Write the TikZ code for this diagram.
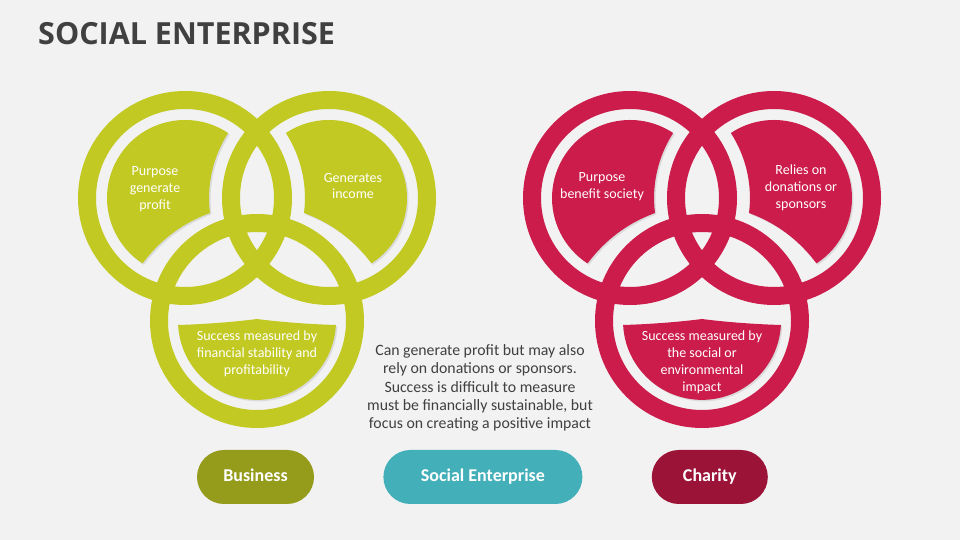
\documentclass[tikz,border=0pt]{standalone}
\usepackage{fontspec}
\setmainfont{Carlito}
\newfontfamily\titlefont{Open Sans}
\usetikzlibrary{positioning,shadows}
\definecolor{bg_gray}{HTML}{F2F2F2}
\definecolor{lime_ring}{HTML}{C2C923}
\definecolor{rose_ring}{HTML}{CC1C4B}
\definecolor{olive_pill}{HTML}{959B1A}
\definecolor{teal_pill}{HTML}{42AFB9}
\definecolor{wine_pill}{HTML}{9B1438}
\definecolor{text_dark}{HTML}{404040}
\begin{document}
\begin{tikzpicture}[
        x=1pt, y=1pt,
        ring/.style={line width=18pt},
        blob/.style={drop shadow={shadow xshift=1.5pt, shadow yshift=-1.5pt, opacity=.2}},
        blobtext/.style={align=center, text=white, font=\fontsize{14}{16.9}\selectfont},
        pill/.style={rounded corners=27pt, minimum height=54pt, text=white, inner sep=0pt,
                     text height=12.5pt, text depth=3.5pt,
                     font=\fontsize{18}{20}\selectfont\bfseries}]
    \fill[bg_gray] (0,0) rectangle (960,540);
    \useasboundingbox (0,0) rectangle (960,540);
    \node[anchor=base west, inner sep=0pt, text=text_dark] (title) at (38,495)
        {\titlefont\fontsize{30.5}{36}\selectfont\bfseries SOCIAL ENTERPRISE};
    % the two three-ring sets
    \foreach \cx/\col in {257/lime_ring, 702/rose_ring} {
        \begin{scope}[shift={(\cx,219)}]
            \draw[ring, draw=\col] (-72,123) circle (98);
            \draw[ring, draw=\col] (72,123) circle (98);
            \draw[ring, draw=\col] (0,0) circle (98);
            \fill[blob, fill=\col, shift={(-72,123)}] (56.5:78) arc[start angle=56.5, end angle=237, radius=78]
                .. controls (-24.8,-41.9) and (-2.8,-25.3) .. (25,-15)
                arc[start angle=187.2, end angle=147.2, radius=120] -- cycle;
            \fill[blob, fill=\col, shift={(72,123)}] (123.5:78) arc[start angle=123.5, end angle=-57, radius=78]
                .. controls (24.8,-41.9) and (2.8,-25.3) .. (-25,-15)
                arc[start angle=-7.2, end angle=32.8, radius=120] -- cycle;
            \fill[blob, fill=\col] (-78.9,-4) .. controls (-45,-3) and (-15,0) .. (0,2)
                .. controls (15,0) and (45,-3) .. (78.9,-4)
                arc[start angle=-3, end angle=-177, radius=79] -- cycle;
        \end{scope}
    }
    \node[blobtext] (bizpurpose) at (155,351) {Purpose\\generate\\profit};
    \node[blobtext] (bizincome)  at (353,354) {Generates\\income};
    \node[blobtext] (bizsuccess) at (257,186) {Success measured by\\financial stability and\\profitability};
    \node[blobtext] (chapurpose) at (602,353) {Purpose\\benefit society};
    \node[blobtext] (chadonate)  at (801,352) {Relies on\\donations or\\sponsors};
    \node[blobtext] (chasuccess) at (702,178) {Success measured by\\the social or\\environmental\\impact};
    \node[align=center, text=text_dark, font=\fontsize{15.8}{18.2}\selectfont] (sedesc) at (480,152)
        {Can generate profit but may also\\rely on donations or sponsors.\\Success is difficult to measure\\must be financially sustainable, but\\focus on creating a positive impact};
    \node[pill, fill=olive_pill, minimum width=117pt] (business) at (255.5,63) {Business};
    \node[pill, fill=teal_pill, minimum width=199pt, right=69pt of business] (social) {Social Enterprise};
    \node[pill, fill=wine_pill, minimum width=116pt, right=69pt of social] (charity) {Charity};
\end{tikzpicture}
\end{document}
